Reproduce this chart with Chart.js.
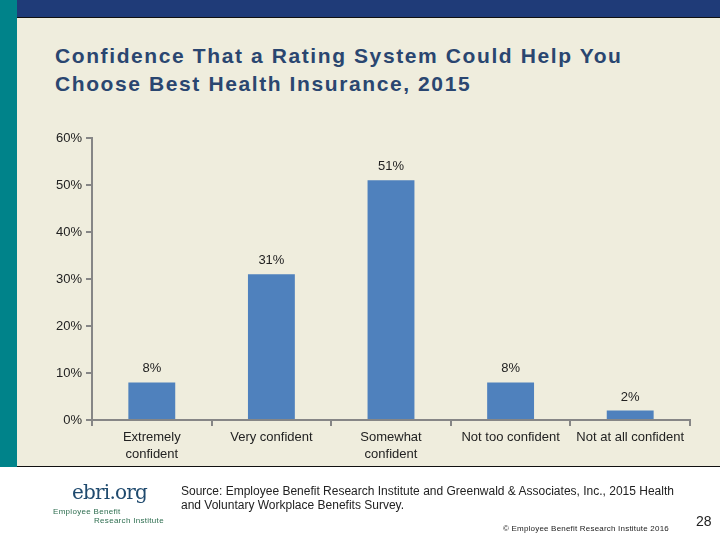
<!DOCTYPE html>
<html>
<head>
<meta charset="utf-8">
<script src="https://cdn.jsdelivr.net/npm/chart.js@4.4.1/dist/chart.umd.min.js"></script>
<style>
  html, body { margin: 0; padding: 0; }
  body { width: 720px; height: 540px; position: relative; overflow: hidden; background: #ffffff; font-family: "Liberation Sans", Arial, sans-serif; }
  #teal { position: absolute; left: 0; top: 0; width: 17px; height: 467px; background: #00838a; }
  #navy { position: absolute; left: 17px; top: 0; width: 703px; height: 17px; background: #1f3b78; border-bottom: 1px solid #111; }
  #slide { position: absolute; left: 17px; top: 18px; width: 703px; height: 448px; background: #efeddd; border-bottom: 1px solid #111; }
  #title { position: absolute; left: 55px; top: 42px; font-size: 21px; font-weight: bold; line-height: 28px; color: #2a4670; letter-spacing: 1.6px; white-space: nowrap; }
  #wrap { position: absolute; left: 0; top: 0; width: 720px; height: 540px; }
  #logo { position: absolute; left: 52px; top: 478px; width: 120px; }
  #logo .big { font-family: "DejaVu Serif", Georgia, serif; font-size: 20px; color: #1f4a6e; letter-spacing: -0.8px; position: absolute; left: 20px; top: 2px; }
  #logo .s1 { position: absolute; left: 1px; top: 29px; font-size: 8px; color: #2e6e50; white-space: nowrap; letter-spacing: 0.3px; }
  #logo .s2 { position: absolute; left: 42px; top: 38px; font-size: 8px; color: #2e6e50; white-space: nowrap; letter-spacing: 0.3px; }
  #source { position: absolute; left: 181px; top: 484px; font-size: 12px; line-height: 14px; color: #222; width: 500px; }
  #copy { position: absolute; left: 503px; top: 524px; font-size: 8px; color: #222; letter-spacing: 0.2px; }
  #page { position: absolute; left: 696px; top: 513px; font-size: 14px; color: #222; }
</style>
</head>
<body>
<div id="teal"></div>
<div id="navy"></div>
<div id="slide"></div>
<div id="title">Confidence That a Rating System Could Help You<br>Choose Best Health Insurance, 2015</div>
<div id="wrap"><canvas id="chart" width="720" height="540"></canvas></div>
<div id="logo">
  <div class="big">ebri.org</div>
  <div class="s1">Employee Benefit</div>
  <div class="s2">Research Institute</div>
</div>
<div id="source">Source: Employee Benefit Research Institute and Greenwald &amp; Associates, Inc., 2015 Health and Voluntary Workplace Benefits Survey.</div>
<div id="copy">© Employee Benefit Research Institute 2016</div>
<div id="page">28</div>
<script>
// chart data
var categories = [['Extremely', 'confident'], 'Very confident', ['Somewhat', 'confident'], 'Not too confident', 'Not at all confident'];
var values = [8, 31, 51, 8, 2];
var yTicks = [0, 10, 20, 30, 40, 50, 60];

var valueLabels = {
  id: 'valueLabels',
  afterDatasetsDraw: function(chart) {
    var ctx = chart.ctx;
    var meta = chart.getDatasetMeta(0);
    ctx.save();
    ctx.font = '13px "Liberation Sans", Arial, sans-serif';
    ctx.fillStyle = '#222';
    ctx.textAlign = 'center';
    ctx.textBaseline = 'bottom';
    meta.data.forEach(function(bar, i) {
      ctx.fillText(values[i] + '%', bar.x, bar.y - 7);
    });
    ctx.restore();
  }
};

var ctx = document.getElementById('chart').getContext('2d');
var myChart = new Chart(ctx, {
  type: 'bar',
  plugins: [valueLabels],
  data: {
    labels: categories,
    datasets: [{
      data: values,
      backgroundColor: '#4f81bd',
      borderWidth: 0,
      barPercentage: 0.8,
      categoryPercentage: 0.49
    }]
  },
  options: {
    responsive: false,
    animation: false,
    events: [],
    layout: { padding: { left: 0, right: 30, top: 138, bottom: 70 } },
    plugins: { legend: { display: false }, tooltip: { enabled: false } },
    scales: {
      x: {
        afterFit: function(scale) { scale.height = 50; },
        grid: { display: true, drawOnChartArea: false, offset: true, color: '#868686', tickLength: 6, lineWidth: 2 },
        border: { color: '#868686', width: 2 },
        ticks: {
          color: '#222',
          font: { family: '"Liberation Sans", Arial, sans-serif', size: 13, lineHeight: 1.3 },
          padding: 3,
          maxRotation: 0,
          autoSkip: false
        }
      },
      y: {
        min: 0,
        max: 60,
        afterFit: function(scale) { scale.width = 92; },
        afterBuildTicks: function(scale) {
          scale.ticks = yTicks.map(function(v) { return { value: v }; });
        },
        grid: { display: true, drawOnChartArea: false, color: '#868686', tickLength: 6, lineWidth: 2 },
        border: { color: '#868686', width: 2 },
        ticks: {
          color: '#222',
          font: { family: '"Liberation Sans", Arial, sans-serif', size: 13 },
          padding: 4,
          callback: function(v) { return v + '%'; }
        }
      }
    }
  }
});
</script>
</body>
</html>
